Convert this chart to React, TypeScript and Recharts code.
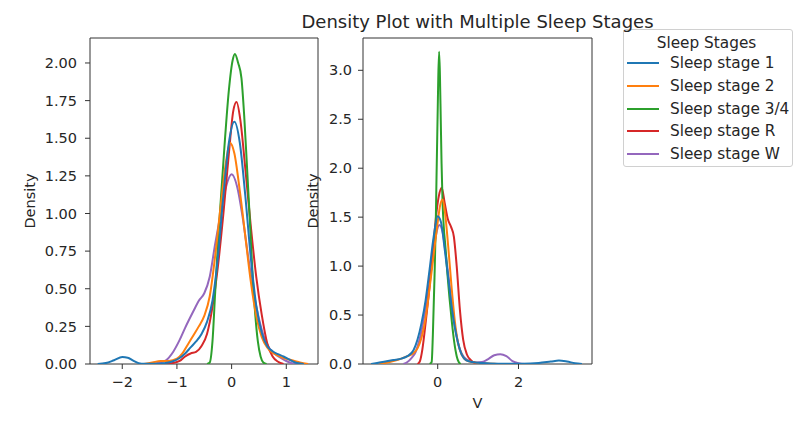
import React from "react";
import { LineChart, Line, XAxis, YAxis, ReferenceArea, Legend } from "recharts";

const STAGES = ["Sleep stage 1", "Sleep stage 2", "Sleep stage 3/4", "Sleep stage R", "Sleep stage W"];
const COLORS = ["#1f77b4", "#ff7f0e", "#2ca02c", "#d62728", "#9467bd"];

// left panel: [x, density]
const leftStage1 = [
  [-2.45, 0], [-2.3, 0.006], [-2.15, 0.025], [-2.0, 0.046], [-1.9, 0.042], [-1.8, 0.022], [-1.7, 0.006],
  [-1.6, 0.001], [-1.4, 0.001], [-1.25, 0.005], [-1.1, 0.015], [-0.95, 0.04], [-0.85, 0.07], [-0.75, 0.11],
  [-0.65, 0.15], [-0.55, 0.2], [-0.45, 0.28], [-0.35, 0.42], [-0.25, 0.71], [-0.15, 1.12], [-0.05, 1.47],
  [0.05, 1.61], [0.15, 1.47], [0.25, 1.12], [0.35, 0.71], [0.45, 0.39], [0.55, 0.21], [0.65, 0.12],
  [0.75, 0.085], [0.85, 0.065], [0.95, 0.05], [1.05, 0.03], [1.15, 0.012], [1.25, 0.003], [1.32, 0],
];
const leftStage2 = [
  [-1.6, 0], [-1.45, 0.01], [-1.3, 0.02], [-1.15, 0.02], [-1.0, 0.035], [-0.9, 0.07], [-0.8, 0.13],
  [-0.7, 0.19], [-0.6, 0.25], [-0.5, 0.32], [-0.4, 0.45], [-0.3, 0.72], [-0.2, 1.05], [-0.1, 1.35],
  [-0.03, 1.47], [0.05, 1.4], [0.15, 1.15], [0.25, 0.85], [0.35, 0.55], [0.45, 0.32], [0.55, 0.18],
  [0.65, 0.11], [0.75, 0.075], [0.85, 0.055], [0.95, 0.04], [1.05, 0.03], [1.15, 0.02], [1.25, 0.01], [1.4, 0],
];
const leftStage34 = [
  [-0.45, 0], [-0.4, 0.01], [-0.35, 0.15], [-0.3, 0.48], [-0.25, 0.8], [-0.2, 1.08], [-0.13, 1.45],
  [-0.05, 1.82], [0.02, 2.02], [0.06, 2.06], [0.12, 2.0], [0.18, 1.9], [0.23, 1.65], [0.28, 1.32],
  [0.33, 0.98], [0.38, 0.62], [0.43, 0.34], [0.48, 0.15], [0.53, 0.05], [0.58, 0.01], [0.64, 0],
];
const leftStageR = [
  [-1.3, 0], [-1.1, 0.005], [-0.95, 0.02], [-0.85, 0.05], [-0.75, 0.07], [-0.65, 0.08], [-0.55, 0.12],
  [-0.45, 0.2], [-0.35, 0.38], [-0.25, 0.65], [-0.15, 1.0], [-0.05, 1.4], [0.03, 1.68], [0.09, 1.74],
  [0.16, 1.62], [0.25, 1.3], [0.35, 0.92], [0.45, 0.58], [0.55, 0.33], [0.65, 0.14], [0.75, 0.05],
  [0.85, 0.015], [0.95, 0],
];
const leftStageW = [
  [-1.5, 0], [-1.35, 0.006], [-1.2, 0.025], [-1.07, 0.08], [-0.95, 0.16], [-0.85, 0.24], [-0.7, 0.35],
  [-0.6, 0.42], [-0.5, 0.47], [-0.4, 0.58], [-0.3, 0.8], [-0.2, 1.0], [-0.1, 1.18], [0.0, 1.26],
  [0.1, 1.18], [0.2, 0.98], [0.3, 0.72], [0.4, 0.48], [0.5, 0.3], [0.6, 0.17], [0.7, 0.1], [0.8, 0.065],
  [0.9, 0.04], [1.0, 0.02], [1.1, 0.006], [1.2, 0],
];

// right panel: [V, density]
const rightStage1 = [
  [-1.65, 0], [-1.5, 0.01], [-1.3, 0.025], [-1.1, 0.04], [-0.9, 0.055], [-0.75, 0.08], [-0.6, 0.14],
  [-0.5, 0.25], [-0.4, 0.42], [-0.3, 0.65], [-0.2, 0.97], [-0.1, 1.3], [0.0, 1.51], [0.08, 1.45],
  [0.18, 1.15], [0.26, 0.88], [0.35, 0.57], [0.43, 0.36], [0.5, 0.22], [0.6, 0.09], [0.7, 0.04],
  [0.85, 0.02], [1.0, 0.012], [1.3, 0.006], [1.7, 0.003], [2.1, 0.003], [2.5, 0.01], [2.8, 0.025],
  [3.0, 0.035], [3.2, 0.025], [3.4, 0.008], [3.57, 0],
];
const rightStage2 = [
  [-1.45, 0], [-1.3, 0.01], [-1.1, 0.03], [-0.9, 0.055], [-0.75, 0.08], [-0.6, 0.11], [-0.5, 0.16],
  [-0.4, 0.27], [-0.3, 0.47], [-0.2, 0.78], [-0.1, 1.12], [0.0, 1.45], [0.06, 1.62], [0.12, 1.68],
  [0.18, 1.55], [0.26, 1.2], [0.34, 0.8], [0.42, 0.45], [0.5, 0.22], [0.6, 0.09], [0.7, 0.04],
  [0.85, 0.02], [1.0, 0.01], [1.2, 0.005], [1.4, 0.002], [1.55, 0],
];
const rightStage34 = [
  [-0.2, 0], [-0.15, 0.02], [-0.12, 0.3], [-0.08, 0.88], [-0.05, 1.4], [-0.03, 1.9], [0.0, 2.6],
  [0.015, 2.95], [0.035, 3.19], [0.055, 2.95], [0.075, 2.5], [0.095, 2.05], [0.12, 1.65], [0.15, 1.4],
  [0.19, 1.2], [0.24, 0.92], [0.29, 0.68], [0.35, 0.43], [0.41, 0.22], [0.47, 0.08], [0.52, 0.02], [0.57, 0],
];
const rightStageR = [
  [-0.5, 0], [-0.44, 0.03], [-0.38, 0.15], [-0.3, 0.42], [-0.2, 0.8], [-0.11, 1.2], [-0.03, 1.55],
  [0.03, 1.72], [0.1, 1.8], [0.17, 1.65], [0.25, 1.48], [0.33, 1.4], [0.4, 1.3], [0.47, 1.0],
  [0.55, 0.55], [0.63, 0.25], [0.72, 0.1], [0.82, 0.04], [0.92, 0.01], [1.0, 0],
];
const rightStageW = [
  [-0.85, 0], [-0.75, 0.02], [-0.65, 0.06], [-0.55, 0.12], [-0.45, 0.25], [-0.35, 0.45], [-0.25, 0.7],
  [-0.15, 1.0], [-0.05, 1.3], [0.04, 1.42], [0.12, 1.35], [0.2, 1.12], [0.28, 0.85], [0.36, 0.55],
  [0.45, 0.32], [0.55, 0.15], [0.65, 0.07], [0.8, 0.03], [0.95, 0.015], [1.1, 0.02], [1.25, 0.05],
  [1.4, 0.09], [1.55, 0.1], [1.7, 0.08], [1.85, 0.03], [2.0, 0.008], [2.15, 0],
];

const leftXTicks = [-2, -1, 0, 1];
const leftYTicks = [0, 0.25, 0.5, 0.75, 1.0, 1.25, 1.5, 1.75, 2.0];
const rightXTicks = [0, 2];
const rightYTicks = [0, 0.5, 1.0, 1.5, 2.0, 2.5, 3.0];

const FONT = '"DejaVu Sans", sans-serif';
const TEXT = "#262626";
const tickStyle = { fontSize: 14.5, fill: TEXT, fontFamily: FONT };

const toPts = (arr: number[][]) => arr.map(([x, y]) => ({ x, y }));
const fmtX = (v: number) => String(v).replace("-", "\u2212");

const YLabel = (props: any) => {
  const vb = props.viewBox || { x: 0, y: 38, height: 326 };
  const cx = vb.x;
  const cy = vb.y + vb.height / 2;
  return (
    <text x={cx} y={cy} transform={`rotate(-90 ${cx} ${cy})`} textAnchor="middle" dominantBaseline="central"
      fontSize={14.5} fill={TEXT} fontFamily={FONT}>Density</text>
  );
};

const XLabel = (props: any) => {
  const vb = props.viewBox || { x: 0, y: 364, width: 0 };
  return (
    <text x={vb.x + vb.width / 2} y={vb.y + 38.5} textAnchor="middle" dominantBaseline="central"
      fontSize={14.5} fill={TEXT} fontFamily={FONT}>V</text>
  );
};

const LegendBox = () => (
  <div style={{ position: "relative", width: 170, height: 138, boxSizing: "border-box", border: "1px solid #d0d0d0",
    borderRadius: 3, background: "#fff", fontFamily: FONT, fontSize: 15.3, color: TEXT }}>
    <div style={{ position: "absolute", left: 0, width: 165, top: 1.7, lineHeight: "22px", textAlign: "center", whiteSpace: "nowrap" }}>
      Sleep Stages
    </div>
    {STAGES.map((s, i) => (
      <div key={s} style={{ position: "absolute", left: 0, top: 22.3 + i * 22.7, height: 22, width: 168 }}>
        <span style={{ position: "absolute", left: 3, top: 10, width: 32, height: 2, background: COLORS[i] }} />
        <span style={{ position: "absolute", left: 46, top: 0, lineHeight: "22px", whiteSpace: "nowrap" }}>{s}</span>
      </div>
    ))}
  </div>
);

type PanelProps = {
  series: number[][][];
  width: number;
  margin: { top: number; right: number; bottom: number; left: number };
  yAxisWidth: number;
  xDomain: [number, number];
  yDomain: [number, number];
  xTicks: number[];
  yTicks: number[];
  yDigits: number;
  yTickMargin: number;
  xLabel?: boolean;
  legend?: boolean;
};

function Panel(p: PanelProps) {
  const order = [4, 3, 2, 1, 0];
  return (
    <LineChart width={p.width} height={423} margin={p.margin}>
      <XAxis type="number" dataKey="x" domain={p.xDomain} ticks={p.xTicks} allowDataOverflow height={40}
        tickFormatter={fmtX} tick={tickStyle} tickSize={5} tickMargin={8} axisLine={false}
        tickLine={{ stroke: "#333" }} label={p.xLabel ? { content: XLabel } : undefined} />
      <YAxis type="number" dataKey="y" domain={p.yDomain} ticks={p.yTicks} allowDataOverflow width={p.yAxisWidth}
        tickFormatter={(v: number) => v.toFixed(p.yDigits)} tick={tickStyle} tickSize={5} tickMargin={p.yTickMargin}
        axisLine={false} tickLine={{ stroke: "#333" }} label={{ content: YLabel }} />
      {order.map((i) => (
        <Line key={STAGES[i]} data={toPts(p.series[i])} dataKey="y" name={STAGES[i]} type="monotone"
          stroke={COLORS[i]} strokeWidth={2} dot={false} activeDot={false} isAnimationActive={false} />
      ))}
      <ReferenceArea x1={p.xDomain[0]} x2={p.xDomain[1]} y1={p.yDomain[0]} y2={p.yDomain[1]}
        fill="none" stroke="#333" strokeWidth={1} ifOverflow="visible" />
      {p.legend && (
        <Legend layout="vertical" align="center" verticalAlign="middle" content={() => <LegendBox />}
          wrapperStyle={{ left: 323, top: 29, width: 170, height: 138 }} />
      )}
    </LineChart>
  );
}

export default function App() {
  return (
    <div style={{ position: "absolute", left: 0, top: 0, width: 803, height: 423, background: "#fff", fontFamily: FONT, overflow: "hidden" }}>
      <div style={{ position: "absolute", left: 0, top: 0 }}>
        <Panel series={[leftStage1, leftStage2, leftStage34, leftStageR, leftStageW]} width={340}
          margin={{ top: 38, right: 22, bottom: 19, left: 30 }} yAxisWidth={60}
          xDomain={[-2.59, 1.58]} yDomain={[0, 2.166]} xTicks={leftXTicks} yTicks={leftYTicks}
          yDigits={2} yTickMargin={8} />
      </div>
      <div style={{ position: "absolute", left: 300, top: 0 }}>
        <Panel series={[rightStage1, rightStage2, rightStage34, rightStageR, rightStageW]} width={503}
          margin={{ top: 38, right: 211, bottom: 19, left: 13 }} yAxisWidth={50}
          xDomain={[-1.85, 3.82]} yDomain={[0, 3.33]} xTicks={rightXTicks} yTicks={rightYTicks}
          yDigits={1} yTickMargin={6} xLabel legend />
      </div>
      <div style={{ position: "absolute", left: 277.5, top: 12, width: 400, textAlign: "center", fontSize: 18,
        lineHeight: "20px", color: TEXT, whiteSpace: "nowrap" }}>
        Density Plot with Multiple Sleep Stages
      </div>
    </div>
  );
}
